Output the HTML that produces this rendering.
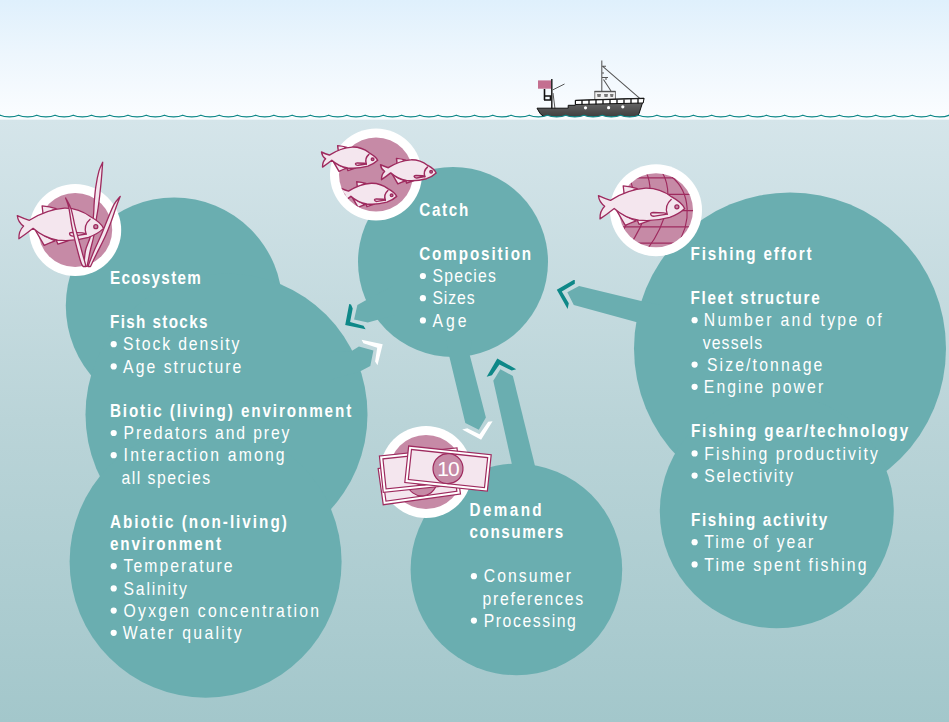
<!DOCTYPE html>
<html><head><meta charset="utf-8"><style>
html,body{margin:0;padding:0;background:#fff;}
svg{display:block;}
text{font-family:"Liberation Sans",sans-serif;font-size:17.5px;fill:#fff;}
</style></head><body>
<svg width="949" height="722" viewBox="0 0 949 722">
<defs>
<linearGradient id="sky" x1="0" y1="0" x2="0" y2="1"><stop offset="0" stop-color="#dff0fc"/><stop offset="0.45" stop-color="#edf6fd"/><stop offset="1" stop-color="#fbfdff"/></linearGradient>
<linearGradient id="sea" x1="0" y1="0" x2="0" y2="1"><stop offset="0" stop-color="#d5e5ea"/><stop offset="0.5" stop-color="#bad4d8"/><stop offset="1" stop-color="#a3c7cb"/></linearGradient>
</defs>
<rect x="0" y="0" width="949" height="119.3" fill="url(#sky)"/>
<rect x="0" y="119.3" width="949" height="603" fill="url(#sea)"/>
<g>
<defs><linearGradient id="hull" x1="0" y1="0" x2="0" y2="1"><stop offset="0" stop-color="#727272"/><stop offset="1" stop-color="#3a3a3a"/></linearGradient></defs>
<rect x="538" y="80.4" width="13" height="8.3" fill="#c46f90"/>
<path d="M551.8,79 L551.8,109" stroke="#222" stroke-width="1.5"/>
<path d="M552.5,90 L564.5,84 M553,93 L555,109" stroke="#555" stroke-width="1" fill="none"/>
<path d="M601.8,60.4 L601.8,91 M602,66.3 L606,66.3 M602,73 L604,73 M602,77.5 L608,77.5 M606,77.5 L606,80 M603,66.7 L639.5,98.2 M603.5,79.5 L611,91" stroke="#555" stroke-width="1.05" fill="none"/>
<path d="M544.5,89 L544.5,100 M544,96 L550.5,96 L550.5,100 L544,100" stroke="#111" stroke-width="1.6" fill="none"/>
<rect x="594.8" y="91.6" width="20.6" height="7.8" fill="#f2f2f2" stroke="#666" stroke-width="0.9"/>
<path d="M594.5,91.5 L615.5,91.5" stroke="#555" stroke-width="1.4"/>
<path d="M597,94 L601,94 L600.5,97 L597.5,97 Z M604,94 L608,94 L607.5,97 L604.5,97 Z M610,94 L613.5,94 L613,97 L610.5,97 Z" fill="#777"/>
<path d="M537,108.2 L568.2,108.2 L568.2,105.3 L575.3,105.3 L575.3,100.3 L644,98.2 L639,113.6 L636,118.5 L546,118.5 Q539,114 537,108.2 Z" fill="url(#hull)" stroke="#111" stroke-width="1"/>
<path d="M575.5,100.5 L644,98.5 L643.2,103 L575.5,104.5 Z" fill="#fff" stroke="#111" stroke-width="1"/>
<path d="M582,100 L582,104.5 M589,100 L589,104.5 M596,100 L596,104.5 M603,100 L603,104 M610,99.5 L610,104 M617,99.5 L617,104 M624,99.5 L624,104 M631,99 L631,103.5 M638,99 L638,103.5" stroke="#111" stroke-width="1.3"/>
<circle cx="585.5" cy="107.8" r="1.6" fill="#fff"/><circle cx="608.6" cy="107.7" r="1.6" fill="#fff"/><circle cx="622.8" cy="106.8" r="1.6" fill="#fff"/>
</g>
<path d="M -17.94 115.3 C -13.38 117.4 -4.26 117.4 0.30 115.3 C 4.86 117.4 13.98 117.4 18.54 115.3 C 23.10 117.4 32.22 117.4 36.78 115.3 C 41.34 117.4 50.46 117.4 55.02 115.3 C 59.58 117.4 68.70 117.4 73.26 115.3 C 77.82 117.4 86.94 117.4 91.50 115.3 C 96.06 117.4 105.18 117.4 109.74 115.3 C 114.30 117.4 123.42 117.4 127.98 115.3 C 132.54 117.4 141.66 117.4 146.22 115.3 C 150.78 117.4 159.90 117.4 164.46 115.3 C 169.02 117.4 178.14 117.4 182.70 115.3 C 187.26 117.4 196.38 117.4 200.94 115.3 C 205.50 117.4 214.62 117.4 219.18 115.3 C 223.74 117.4 232.86 117.4 237.42 115.3 C 241.98 117.4 251.10 117.4 255.66 115.3 C 260.22 117.4 269.34 117.4 273.90 115.3 C 278.46 117.4 287.58 117.4 292.14 115.3 C 296.70 117.4 305.82 117.4 310.38 115.3 C 314.94 117.4 324.06 117.4 328.62 115.3 C 333.18 117.4 342.30 117.4 346.86 115.3 C 351.42 117.4 360.54 117.4 365.10 115.3 C 369.66 117.4 378.78 117.4 383.34 115.3 C 387.90 117.4 397.02 117.4 401.58 115.3 C 406.14 117.4 415.26 117.4 419.82 115.3 C 424.38 117.4 433.50 117.4 438.06 115.3 C 442.62 117.4 451.74 117.4 456.30 115.3 C 460.86 117.4 469.98 117.4 474.54 115.3 C 479.10 117.4 488.22 117.4 492.78 115.3 C 497.34 117.4 506.46 117.4 511.02 115.3 C 515.58 117.4 524.70 117.4 529.26 115.3 C 533.82 117.4 542.94 117.4 547.50 115.3 C 552.06 117.4 561.18 117.4 565.74 115.3 C 570.30 117.4 579.42 117.4 583.98 115.3 C 588.54 117.4 597.66 117.4 602.22 115.3 C 606.78 117.4 615.90 117.4 620.46 115.3 C 625.02 117.4 634.14 117.4 638.70 115.3 C 643.26 117.4 652.38 117.4 656.94 115.3 C 661.50 117.4 670.62 117.4 675.18 115.3 C 679.74 117.4 688.86 117.4 693.42 115.3 C 697.98 117.4 707.10 117.4 711.66 115.3 C 716.22 117.4 725.34 117.4 729.90 115.3 C 734.46 117.4 743.58 117.4 748.14 115.3 C 752.70 117.4 761.82 117.4 766.38 115.3 C 770.94 117.4 780.06 117.4 784.62 115.3 C 789.18 117.4 798.30 117.4 802.86 115.3 C 807.42 117.4 816.54 117.4 821.10 115.3 C 825.66 117.4 834.78 117.4 839.34 115.3 C 843.90 117.4 853.02 117.4 857.58 115.3 C 862.14 117.4 871.26 117.4 875.82 115.3 C 880.38 117.4 889.50 117.4 894.06 115.3 C 898.62 117.4 907.74 117.4 912.30 115.3 C 916.86 117.4 925.98 117.4 930.54 115.3 C 935.10 117.4 944.22 117.4 948.78 115.3 C 953.34 117.4 962.46 117.4 967.02 115.3 L 960 119.6 L -18 119.6 Z" fill="#f9fcfe"/>
<path d="M -17.94 115.3 C -13.38 117.4 -4.26 117.4 0.30 115.3 C 4.86 117.4 13.98 117.4 18.54 115.3 C 23.10 117.4 32.22 117.4 36.78 115.3 C 41.34 117.4 50.46 117.4 55.02 115.3 C 59.58 117.4 68.70 117.4 73.26 115.3 C 77.82 117.4 86.94 117.4 91.50 115.3 C 96.06 117.4 105.18 117.4 109.74 115.3 C 114.30 117.4 123.42 117.4 127.98 115.3 C 132.54 117.4 141.66 117.4 146.22 115.3 C 150.78 117.4 159.90 117.4 164.46 115.3 C 169.02 117.4 178.14 117.4 182.70 115.3 C 187.26 117.4 196.38 117.4 200.94 115.3 C 205.50 117.4 214.62 117.4 219.18 115.3 C 223.74 117.4 232.86 117.4 237.42 115.3 C 241.98 117.4 251.10 117.4 255.66 115.3 C 260.22 117.4 269.34 117.4 273.90 115.3 C 278.46 117.4 287.58 117.4 292.14 115.3 C 296.70 117.4 305.82 117.4 310.38 115.3 C 314.94 117.4 324.06 117.4 328.62 115.3 C 333.18 117.4 342.30 117.4 346.86 115.3 C 351.42 117.4 360.54 117.4 365.10 115.3 C 369.66 117.4 378.78 117.4 383.34 115.3 C 387.90 117.4 397.02 117.4 401.58 115.3 C 406.14 117.4 415.26 117.4 419.82 115.3 C 424.38 117.4 433.50 117.4 438.06 115.3 C 442.62 117.4 451.74 117.4 456.30 115.3 C 460.86 117.4 469.98 117.4 474.54 115.3 C 479.10 117.4 488.22 117.4 492.78 115.3 C 497.34 117.4 506.46 117.4 511.02 115.3 C 515.58 117.4 524.70 117.4 529.26 115.3 C 533.82 117.4 542.94 117.4 547.50 115.3 C 552.06 117.4 561.18 117.4 565.74 115.3 C 570.30 117.4 579.42 117.4 583.98 115.3 C 588.54 117.4 597.66 117.4 602.22 115.3 C 606.78 117.4 615.90 117.4 620.46 115.3 C 625.02 117.4 634.14 117.4 638.70 115.3 C 643.26 117.4 652.38 117.4 656.94 115.3 C 661.50 117.4 670.62 117.4 675.18 115.3 C 679.74 117.4 688.86 117.4 693.42 115.3 C 697.98 117.4 707.10 117.4 711.66 115.3 C 716.22 117.4 725.34 117.4 729.90 115.3 C 734.46 117.4 743.58 117.4 748.14 115.3 C 752.70 117.4 761.82 117.4 766.38 115.3 C 770.94 117.4 780.06 117.4 784.62 115.3 C 789.18 117.4 798.30 117.4 802.86 115.3 C 807.42 117.4 816.54 117.4 821.10 115.3 C 825.66 117.4 834.78 117.4 839.34 115.3 C 843.90 117.4 853.02 117.4 857.58 115.3 C 862.14 117.4 871.26 117.4 875.82 115.3 C 880.38 117.4 889.50 117.4 894.06 115.3 C 898.62 117.4 907.74 117.4 912.30 115.3 C 916.86 117.4 925.98 117.4 930.54 115.3 C 935.10 117.4 944.22 117.4 948.78 115.3 C 953.34 117.4 962.46 117.4 967.02 115.3" fill="none" stroke="#0e8888" stroke-width="1.25"/>
<g fill="#6aaeb0">
<circle cx="174.1" cy="305.8" r="108.3"/>
<circle cx="226.5" cy="414.5" r="141"/>
<circle cx="205.6" cy="561.7" r="136"/>
<circle cx="453" cy="262" r="95"/>
<circle cx="516.4" cy="569.4" r="105.8"/>
<circle cx="790" cy="348.5" r="156"/>
<circle cx="776.8" cy="511.3" r="117"/>
<polygon points="395,285 365.4,300.4 357.4,305 354.1,319.6 367.8,322.5 395,315"/>
<polygon points="330,351 350.9,351.5 358.9,346.6 373.4,350.4 370.3,366 359.9,371.6 330,380"/>
<polygon points="446,340 449,355.2 465.3,422.9 478.8,429.7 485.9,417.5 469.8,355.2 472,340"/>
<polygon points="500.4,369.2 493.3,380.7 513.2,470 536,470 512.9,376"/>
<polygon points="567.3,292.3 579.1,285.9 641.2,301.1 660,305 660,322 636,322 573.8,304.9"/>
</g>
<polygon points="349.2,304.1 351,304.6 352.7,308.4 350.1,322 363.5,325.8 365.6,329.3 345.2,325.1" fill="#0e8888"/>
<polygon points="361.6,339.7 382.7,344.2 377.5,365.3 375.1,361.5 377.2,347.7 363.4,343.2" fill="#fff"/>
<polygon points="462.2,429.5 467.3,428.2 479.5,434.2 488.2,421.8 492.6,421.3 481.1,439.7" fill="#fff"/>
<polygon points="497.3,358.6 516.2,369.2 511.7,370.6 499.4,364.5 491.9,375.3 486.7,376.7" fill="#0e8888"/>
<polygon points="556.8,289.8 573.6,280 574.8,280 574.8,283.7 561.8,291.4 568.8,303.3 567.6,309.1" fill="#0e8888"/>
<circle cx="75.2" cy="230" r="46" fill="#fff"/><circle cx="75.2" cy="230" r="37" fill="#c68aa6"/>
<circle cx="376" cy="174.5" r="46" fill="#fff"/><circle cx="376" cy="174.5" r="37" fill="#c68aa6"/>
<circle cx="656" cy="210.2" r="46" fill="#fff"/><circle cx="656" cy="210.2" r="37" fill="#c68aa6"/>
<circle cx="426" cy="472" r="46" fill="#fff"/><circle cx="426" cy="472" r="37" fill="#c68aa6"/>
<g stroke="#9e2a5e" stroke-width="1.3" fill="#f4e6ee" stroke-linejoin="round"><path d="M102.7,162.2 C102.08,163.65 100.15,166.80 99,170.9 C97.85,175.00 96.60,181.48 95.8,186.8 C95.00,192.12 94.60,197.88 94.2,202.8 C93.80,207.72 94.02,210.77 93.4,216.3 C92.78,221.83 91.82,230.30 90.5,236 C89.18,241.70 86.60,245.43 85.5,250.5 C84.40,255.57 84.17,263.75 83.9,266.4 L87.1,266.4 C87.63,263.75 89.18,255.57 90.3,250.5 C91.42,245.43 92.75,241.57 93.8,236 C94.85,230.43 95.87,221.85 96.6,217.1 C97.33,212.35 97.67,211.22 98.2,207.5 C98.73,203.78 99.27,199.57 99.8,194.8 C100.33,190.03 100.92,184.33 101.4,178.9 C101.88,173.47 102.48,164.98 102.7,162.2 Z"/></g>
<g transform="translate(13.6,199.8) scale(1.0)"><g stroke="#9e2a5e" stroke-width="1.3" fill="#f4e6ee" stroke-linejoin="round" stroke-linecap="round">
<path d="M29.5,14.5 L28.5,6 Q36,6.5 42.5,8.8 Q36.5,11 33.5,13.5 Z"/>
<path d="M21,29 L30.6,45.5 Q36,43 41.5,41 Q31,37 21,29 Z"/>
<path d="M42.5,40 L44.3,44.4 Q50,42.5 55.5,40.5 Z"/>
<path d="M15.8,20.5 Q9.5,18.5 3.7,15.8 Q4.5,22.5 10,26.3 Q5,31 5.3,39 Q12,34.5 19.5,28.5 Q30,38 44,40.3 Q59,42 75,37.5 Q84.5,34 90,28.6 Q87,22.5 77,17 Q65,8 51,8.3 Q33,9.5 15.8,20.5 Z"/>
<path d="M76.5,19.5 Q69.5,25.5 72.5,34.5" fill="none"/>
<path d="M56,34.4 Q55.5,32.6 58.5,32.6 L69,33 Q71.5,33.2 72.5,34.2 L60,36.3 Q56.5,36.6 56,34.4 Z"/>
<circle cx="82.2" cy="26.9" r="2" fill="#c68aa6"/>
</g></g>
<g stroke="#9e2a5e" stroke-width="1.3" fill="#f4e6ee" stroke-linejoin="round"><path d="M65.6,198 C66.13,199.58 67.75,202.72 68.8,207.5 C69.85,212.28 70.72,220.58 71.9,226.7 C73.08,232.82 74.43,238.37 75.9,244.2 C77.37,250.03 79.50,257.98 80.7,261.7 C81.90,265.42 82.70,265.70 83.1,266.5 L86,266.5 C85.78,265.70 85.72,265.42 84.7,261.7 C83.68,257.98 81.50,250.03 79.9,244.2 C78.30,238.37 76.57,232.55 75.1,226.7 C73.63,220.85 72.68,213.88 71.1,209.1 C69.52,204.32 66.52,199.85 65.6,198 Z"/><path d="M120.2,196.4 C119.18,197.73 116.17,200.68 114.1,204.4 C112.03,208.12 109.92,213.67 107.8,218.7 C105.68,223.73 103.67,229.30 101.4,234.6 C99.13,239.90 96.45,245.18 94.2,250.5 C91.95,255.82 88.95,263.83 87.9,266.5 L90.5,266.5 C91.52,264.37 94.25,258.48 96.6,253.7 C98.95,248.92 102.20,243.10 104.6,237.8 C107.00,232.50 109.02,227.20 111,221.9 C112.98,216.60 114.97,210.25 116.5,206 C118.03,201.75 119.58,198.00 120.2,196.4 Z"/></g>
<clipPath id="cdisc"><circle cx="376" cy="174.5" r="37"/></clipPath>
<g clip-path="url(#cdisc)"><g transform="translate(338.2,177.8) scale(0.65)"><g stroke="#9e2a5e" stroke-width="2.230769230769231" fill="#f4e6ee" stroke-linejoin="round" stroke-linecap="round">
<path d="M29.5,14.5 L28.5,6 Q36,6.5 42.5,8.8 Q36.5,11 33.5,13.5 Z"/>
<path d="M21,29 L30.6,45.5 Q36,43 41.5,41 Q31,37 21,29 Z"/>
<path d="M42.5,40 L44.3,44.4 Q50,42.5 55.5,40.5 Z"/>
<path d="M15.8,20.5 Q9.5,18.5 3.7,15.8 Q4.5,22.5 10,26.3 Q5,31 5.3,39 Q12,34.5 19.5,28.5 Q30,38 44,40.3 Q59,42 75,37.5 Q84.5,34 90,28.6 Q87,22.5 77,17 Q65,8 51,8.3 Q33,9.5 15.8,20.5 Z"/>
<path d="M76.5,19.5 Q69.5,25.5 72.5,34.5" fill="none"/>
<path d="M56,34.4 Q55.5,32.6 58.5,32.6 L69,33 Q71.5,33.2 72.5,34.2 L60,36.3 Q56.5,36.6 56,34.4 Z"/>
<circle cx="82.2" cy="26.9" r="2" fill="#c68aa6"/>
</g></g></g>
<g transform="translate(319.1,141.7) scale(0.651)"><g stroke="#9e2a5e" stroke-width="2.227342549923195" fill="#f4e6ee" stroke-linejoin="round" stroke-linecap="round">
<path d="M29.5,14.5 L28.5,6 Q36,6.5 42.5,8.8 Q36.5,11 33.5,13.5 Z"/>
<path d="M21,29 L30.6,45.5 Q36,43 41.5,41 Q31,37 21,29 Z"/>
<path d="M42.5,40 L44.3,44.4 Q50,42.5 55.5,40.5 Z"/>
<path d="M15.8,20.5 Q9.5,18.5 3.7,15.8 Q4.5,22.5 10,26.3 Q5,31 5.3,39 Q12,34.5 19.5,28.5 Q30,38 44,40.3 Q59,42 75,37.5 Q84.5,34 90,28.6 Q87,22.5 77,17 Q65,8 51,8.3 Q33,9.5 15.8,20.5 Z"/>
<path d="M76.5,19.5 Q69.5,25.5 72.5,34.5" fill="none"/>
<path d="M56,34.4 Q55.5,32.6 58.5,32.6 L69,33 Q71.5,33.2 72.5,34.2 L60,36.3 Q56.5,36.6 56,34.4 Z"/>
<circle cx="82.2" cy="26.9" r="2" fill="#c68aa6"/>
</g></g>
<g transform="translate(378.1,154.5) scale(0.645)"><g stroke="#9e2a5e" stroke-width="2.248062015503876" fill="#f4e6ee" stroke-linejoin="round" stroke-linecap="round">
<path d="M29.5,14.5 L28.5,6 Q36,6.5 42.5,8.8 Q36.5,11 33.5,13.5 Z"/>
<path d="M21,29 L30.6,45.5 Q36,43 41.5,41 Q31,37 21,29 Z"/>
<path d="M42.5,40 L44.3,44.4 Q50,42.5 55.5,40.5 Z"/>
<path d="M15.8,20.5 Q9.5,18.5 3.7,15.8 Q4.5,22.5 10,26.3 Q5,31 5.3,39 Q12,34.5 19.5,28.5 Q30,38 44,40.3 Q59,42 75,37.5 Q84.5,34 90,28.6 Q87,22.5 77,17 Q65,8 51,8.3 Q33,9.5 15.8,20.5 Z"/>
<path d="M76.5,19.5 Q69.5,25.5 72.5,34.5" fill="none"/>
<path d="M56,34.4 Q55.5,32.6 58.5,32.6 L69,33 Q71.5,33.2 72.5,34.2 L60,36.3 Q56.5,36.6 56,34.4 Z"/>
<circle cx="82.2" cy="26.9" r="2" fill="#c68aa6"/>
</g></g>
<clipPath id="netclip"><circle cx="656" cy="210.2" r="37"/></clipPath>
<g clip-path="url(#netclip)" stroke="#9e2a5e" stroke-width="1.15" fill="none"><line x1="610" y1="177.9" x2="700" y2="177.9"/><line x1="610" y1="194.3" x2="700" y2="194.3"/><line x1="610" y1="210.6" x2="700" y2="210.6"/><line x1="610" y1="226.9" x2="700" y2="226.9"/><line x1="610" y1="243.1" x2="700" y2="243.1"/><path d="M630,180 C637,195 633,218 616,242"/><path d="M646,172 C656,192 646,222 628,248"/><path d="M662,172 C674,192 667,225 645,252"/><path d="M672,177 C690,192 693,222 676,246"/></g>
<g transform="translate(594.7,179.9) scale(1.0)"><g stroke="#9e2a5e" stroke-width="1.3" fill="#f4e6ee" stroke-linejoin="round" stroke-linecap="round">
<path d="M29.5,14.5 L28.5,6 Q36,6.5 42.5,8.8 Q36.5,11 33.5,13.5 Z"/>
<path d="M21,29 L30.6,45.5 Q36,43 41.5,41 Q31,37 21,29 Z"/>
<path d="M42.5,40 L44.3,44.4 Q50,42.5 55.5,40.5 Z"/>
<path d="M15.8,20.5 Q9.5,18.5 3.7,15.8 Q4.5,22.5 10,26.3 Q5,31 5.3,39 Q12,34.5 19.5,28.5 Q30,38 44,40.3 Q59,42 75,37.5 Q84.5,34 90,28.6 Q87,22.5 77,17 Q65,8 51,8.3 Q33,9.5 15.8,20.5 Z"/>
<path d="M76.5,19.5 Q69.5,25.5 72.5,34.5" fill="none"/>
<path d="M56,34.4 Q55.5,32.6 58.5,32.6 L69,33 Q71.5,33.2 72.5,34.2 L60,36.3 Q56.5,36.6 56,34.4 Z"/>
<circle cx="82.2" cy="26.9" r="2" fill="#c68aa6"/>
</g></g>
<g stroke="#9e2a5e" stroke-width="1.2"><g transform="translate(421.8,480.9) rotate(-8)"><rect x="-41.5" y="-18.3" width="78" height="36.6" fill="#fff"/><rect x="-38.3" y="-15.1" width="71.6" height="30.2" fill="#f4e6ee"/><circle cx="0" cy="0" r="15" fill="#c68aa6"/><text transform="rotate(8)" x="0" y="7.3" text-anchor="middle" fill="#fff" stroke="none" letter-spacing="-1" style="font-size:21px">10</text></g><g transform="translate(422.6,469.9) rotate(-6)"><rect x="-41.5" y="-18.3" width="78" height="36.6" fill="#fff"/><rect x="-38.3" y="-15.1" width="71.6" height="30.2" fill="#f4e6ee"/><circle cx="0" cy="0" r="15" fill="#c68aa6"/><text transform="rotate(6)" x="0" y="7.3" text-anchor="middle" fill="#fff" stroke="none" letter-spacing="-1" style="font-size:21px">10</text></g><g transform="translate(448,468.6) rotate(6.07)"><rect x="-41.5" y="-18.3" width="83" height="36.6" fill="#fff"/><rect x="-38.3" y="-15.1" width="76.6" height="30.2" fill="#f4e6ee"/><circle cx="0" cy="0" r="15" fill="#c68aa6"/><text transform="rotate(-6.07)" x="0" y="7.3" text-anchor="middle" fill="#fff" stroke="none" letter-spacing="-1" style="font-size:21px">10</text></g></g>
<g>
<text transform="translate(110.00,283.80) scale(0.87,1)" x="0" y="0" textLength="104.4" lengthAdjust="spacing" font-weight="700">Ecosystem</text>
<text transform="translate(110.00,328.20) scale(0.87,1)" x="0" y="0" textLength="112.1" lengthAdjust="spacing" font-weight="700">Fish stocks</text>
<text transform="translate(123.10,350.40) scale(0.9,1)" x="0" y="0" textLength="129.3" lengthAdjust="spacing" font-weight="400">Stock density</text>
<circle cx="113.7" cy="344.2" r="3.1" fill="#fff"/>
<text transform="translate(123.10,372.60) scale(0.9,1)" x="0" y="0" textLength="131.3" lengthAdjust="spacing" font-weight="400">Age structure</text>
<circle cx="113.7" cy="366.4" r="3.1" fill="#fff"/>
<text transform="translate(109.90,417.00) scale(0.87,1)" x="0" y="0" textLength="277.4" lengthAdjust="spacing" font-weight="700">Biotic (living) environment</text>
<text transform="translate(123.60,439.20) scale(0.9,1)" x="0" y="0" textLength="184.3" lengthAdjust="spacing" font-weight="400">Predators and prey</text>
<circle cx="113.7" cy="433.0" r="3.1" fill="#fff"/>
<text transform="translate(123.60,461.40) scale(0.9,1)" x="0" y="0" textLength="178.9" lengthAdjust="spacing" font-weight="400">Interaction among</text>
<circle cx="113.7" cy="455.2" r="3.1" fill="#fff"/>
<text transform="translate(121.40,483.60) scale(0.9,1)" x="0" y="0" textLength="98.6" lengthAdjust="spacing" font-weight="400">all species</text>
<text transform="translate(109.90,528.00) scale(0.87,1)" x="0" y="0" textLength="203.3" lengthAdjust="spacing" font-weight="700">Abiotic (non-living)</text>
<text transform="translate(109.90,550.20) scale(0.87,1)" x="0" y="0" textLength="127.7" lengthAdjust="spacing" font-weight="700">environment</text>
<text transform="translate(123.60,572.40) scale(0.9,1)" x="0" y="0" textLength="121.0" lengthAdjust="spacing" font-weight="400">Temperature</text>
<circle cx="113.7" cy="566.2" r="3.1" fill="#fff"/>
<text transform="translate(123.60,594.60) scale(0.9,1)" x="0" y="0" textLength="70.2" lengthAdjust="spacing" font-weight="400">Salinity</text>
<circle cx="113.7" cy="588.4" r="3.1" fill="#fff"/>
<text transform="translate(123.60,616.80) scale(0.9,1)" x="0" y="0" textLength="217.2" lengthAdjust="spacing" font-weight="400">Oyxgen concentration</text>
<circle cx="113.7" cy="610.6" r="3.1" fill="#fff"/>
<text transform="translate(122.80,639.00) scale(0.9,1)" x="0" y="0" textLength="132.0" lengthAdjust="spacing" font-weight="400">Water quality</text>
<circle cx="113.7" cy="632.8" r="3.1" fill="#fff"/>
<text transform="translate(419.20,215.60) scale(0.87,1)" x="0" y="0" textLength="56.4" lengthAdjust="spacing" font-weight="700">Catch</text>
<text transform="translate(419.20,260.00) scale(0.87,1)" x="0" y="0" textLength="128.7" lengthAdjust="spacing" font-weight="700">Composition</text>
<text transform="translate(432.40,282.20) scale(0.9,1)" x="0" y="0" textLength="70.6" lengthAdjust="spacing" font-weight="400">Species</text>
<circle cx="422.9" cy="276.0" r="3.1" fill="#fff"/>
<text transform="translate(432.40,304.40) scale(0.9,1)" x="0" y="0" textLength="46.8" lengthAdjust="spacing" font-weight="400">Sizes</text>
<circle cx="422.9" cy="298.2" r="3.1" fill="#fff"/>
<text transform="translate(432.40,326.60) scale(0.9,1)" x="0" y="0" textLength="37.8" lengthAdjust="spacing" font-weight="400">Age</text>
<circle cx="422.9" cy="320.4" r="3.1" fill="#fff"/>
<text transform="translate(690.60,259.80) scale(0.87,1)" x="0" y="0" textLength="139.0" lengthAdjust="spacing" font-weight="700">Fishing effort</text>
<text transform="translate(690.60,304.20) scale(0.87,1)" x="0" y="0" textLength="148.3" lengthAdjust="spacing" font-weight="700">Fleet structure</text>
<text transform="translate(703.80,326.40) scale(0.9,1)" x="0" y="0" textLength="197.7" lengthAdjust="spacing" font-weight="400">Number and type of</text>
<circle cx="694.6" cy="320.2" r="3.1" fill="#fff"/>
<text transform="translate(702.70,348.60) scale(0.9,1)" x="0" y="0" textLength="66.0" lengthAdjust="spacing" font-weight="400">vessels</text>
<text transform="translate(706.90,370.80) scale(0.9,1)" x="0" y="0" textLength="128.3" lengthAdjust="spacing" font-weight="400">Size/tonnage</text>
<circle cx="694.6" cy="364.6" r="3.1" fill="#fff"/>
<text transform="translate(703.80,393.00) scale(0.9,1)" x="0" y="0" textLength="132.6" lengthAdjust="spacing" font-weight="400">Engine power</text>
<circle cx="694.6" cy="386.8" r="3.1" fill="#fff"/>
<text transform="translate(690.90,437.40) scale(0.87,1)" x="0" y="0" textLength="249.7" lengthAdjust="spacing" font-weight="700">Fishing gear/technology</text>
<text transform="translate(704.30,459.60) scale(0.9,1)" x="0" y="0" textLength="192.8" lengthAdjust="spacing" font-weight="400">Fishing productivity</text>
<circle cx="694.6" cy="453.4" r="3.1" fill="#fff"/>
<text transform="translate(704.30,481.80) scale(0.9,1)" x="0" y="0" textLength="98.6" lengthAdjust="spacing" font-weight="400">Selectivity</text>
<circle cx="694.6" cy="475.6" r="3.1" fill="#fff"/>
<text transform="translate(690.90,526.20) scale(0.87,1)" x="0" y="0" textLength="156.7" lengthAdjust="spacing" font-weight="700">Fishing activity</text>
<text transform="translate(704.30,548.40) scale(0.9,1)" x="0" y="0" textLength="121.1" lengthAdjust="spacing" font-weight="400">Time of year</text>
<circle cx="694.6" cy="542.2" r="3.1" fill="#fff"/>
<text transform="translate(704.30,570.60) scale(0.9,1)" x="0" y="0" textLength="180.1" lengthAdjust="spacing" font-weight="400">Time spent fishing</text>
<circle cx="694.6" cy="564.4" r="3.1" fill="#fff"/>
<text transform="translate(469.60,515.80) scale(0.87,1)" x="0" y="0" textLength="82.8" lengthAdjust="spacing" font-weight="700">Demand</text>
<text transform="translate(469.60,538.00) scale(0.87,1)" x="0" y="0" textLength="107.7" lengthAdjust="spacing" font-weight="700">consumers</text>
<text transform="translate(483.70,582.40) scale(0.9,1)" x="0" y="0" textLength="97.0" lengthAdjust="spacing" font-weight="400">Consumer</text>
<circle cx="473.9" cy="576.2" r="3.1" fill="#fff"/>
<text transform="translate(482.40,604.60) scale(0.9,1)" x="0" y="0" textLength="111.9" lengthAdjust="spacing" font-weight="400">preferences</text>
<text transform="translate(483.70,626.80) scale(0.9,1)" x="0" y="0" textLength="102.4" lengthAdjust="spacing" font-weight="400">Processing</text>
<circle cx="473.9" cy="620.6" r="3.1" fill="#fff"/>
</g>
</svg>
</body></html>
